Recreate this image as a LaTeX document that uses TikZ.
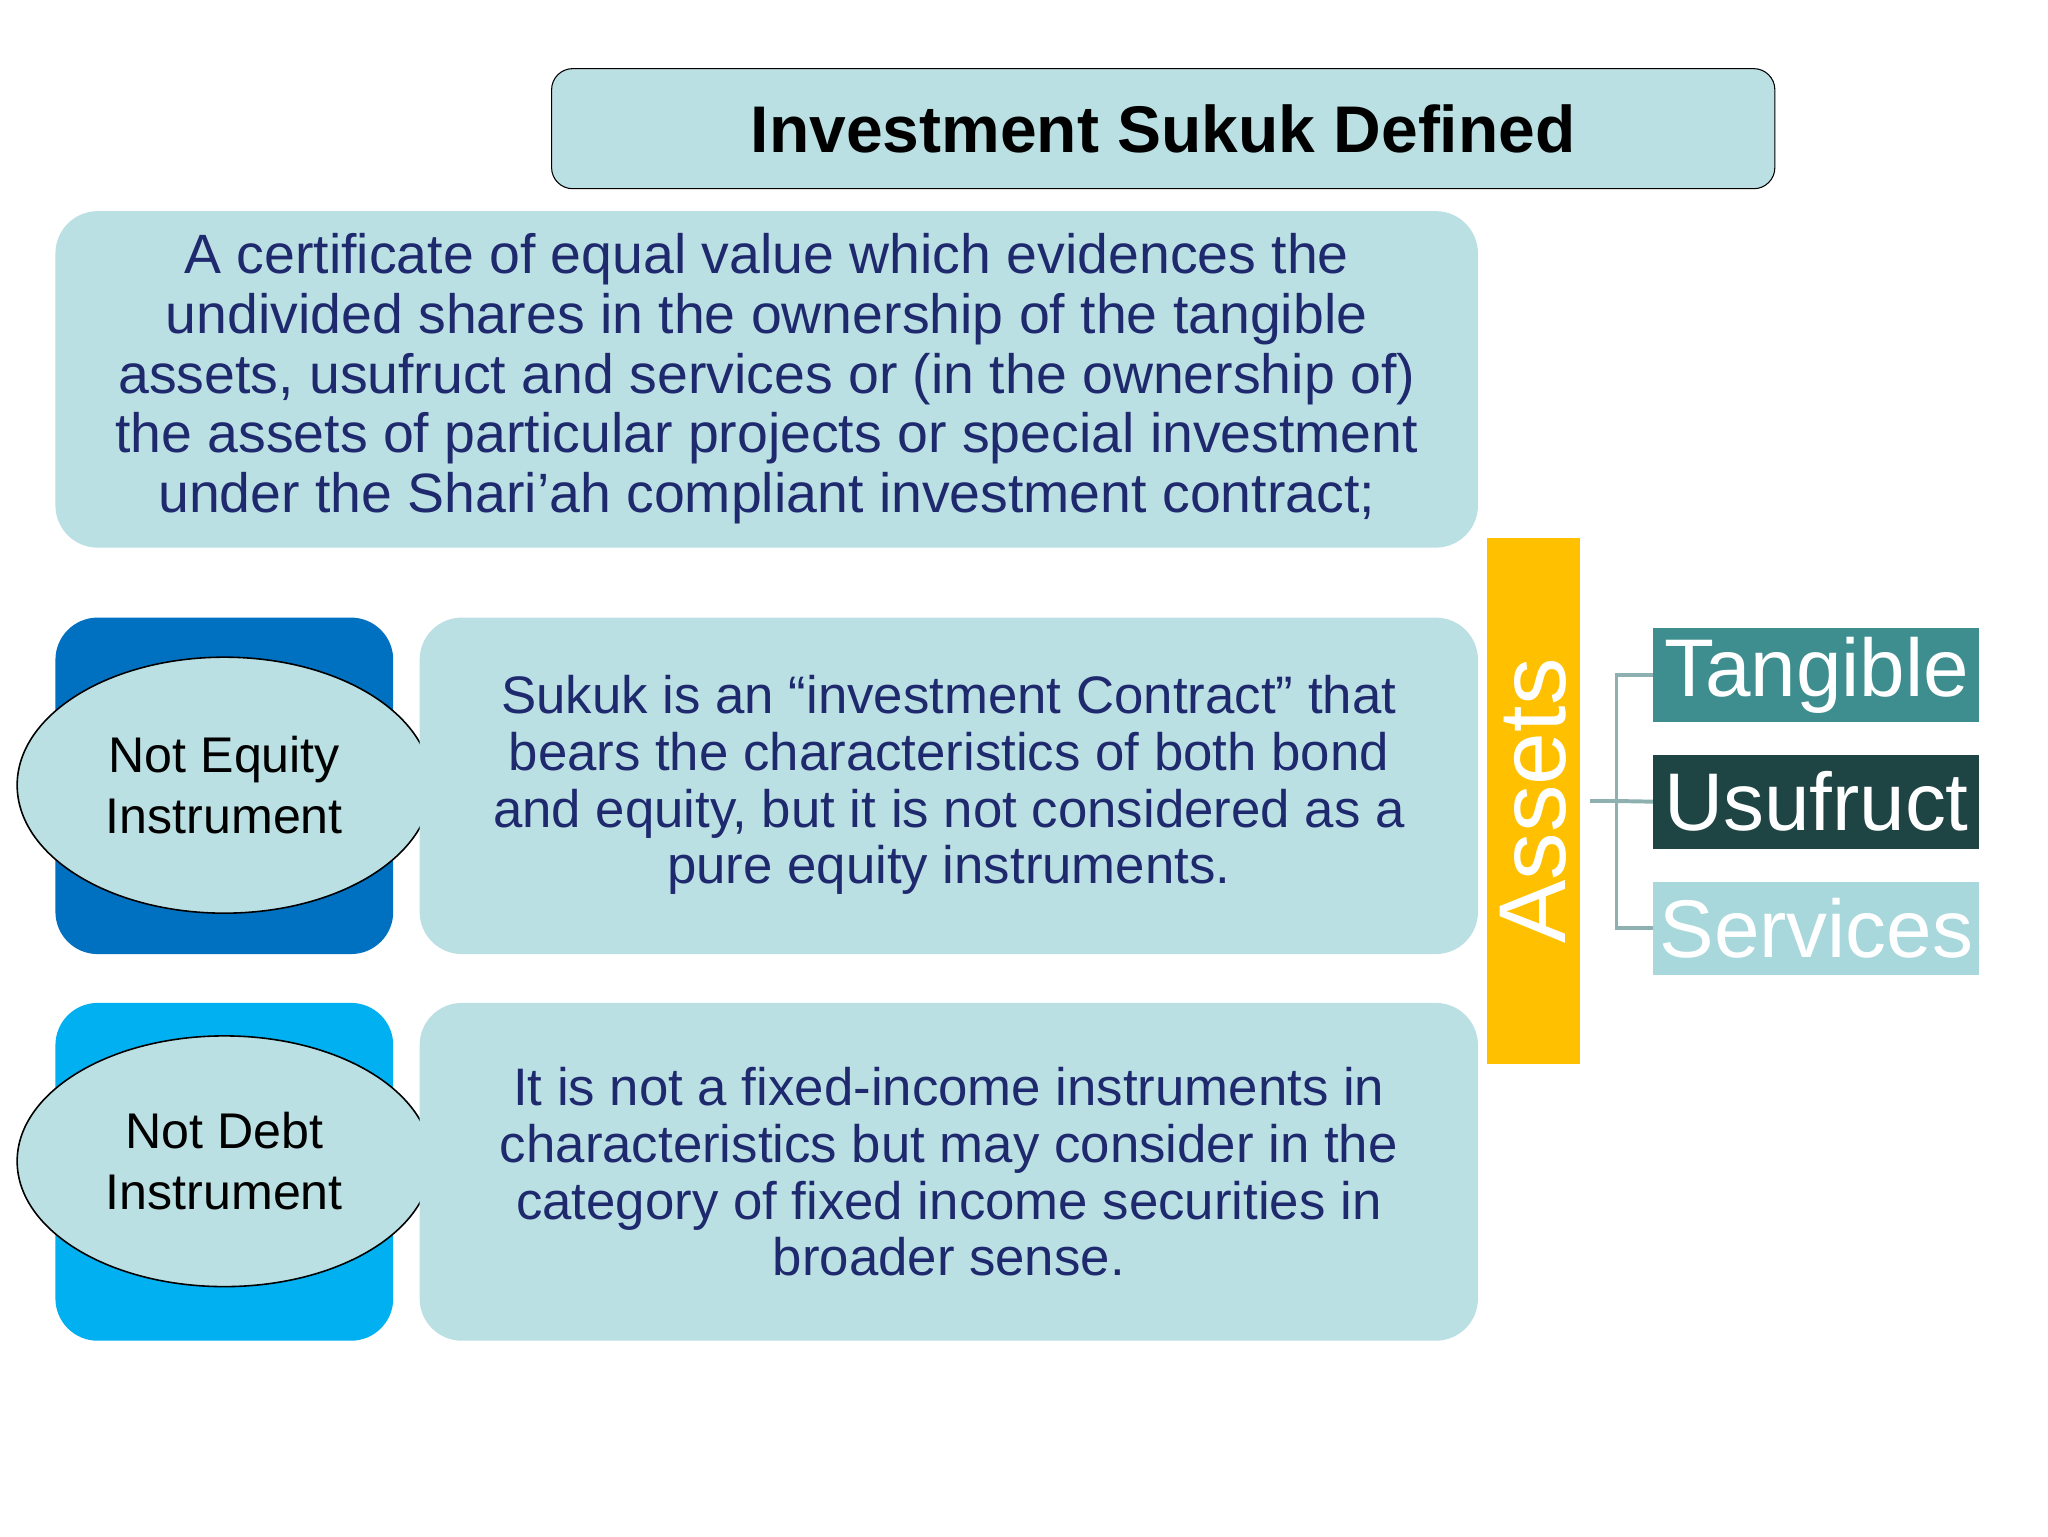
\documentclass[tikz,border=0pt]{standalone}
\usetikzlibrary{shapes.geometric}
\usepackage{fontspec}
\setmainfont{Liberation Sans}
\definecolor{lb}{HTML}{BBE0E3}
\definecolor{navy}{HTML}{1F2A6E}
\definecolor{dblue}{HTML}{0070C0}
\definecolor{cyanb}{HTML}{00B0F0}
\definecolor{gold}{HTML}{FFC000}
\definecolor{teal1}{HTML}{3E8E8F}
\definecolor{teal2}{HTML}{1E4444}
\definecolor{teal3}{HTML}{A8D8DC}
\definecolor{brk}{HTML}{8FB0B0}
\begin{document}
\begin{tikzpicture}[x=0.5pt,y=-0.5pt,
  panel/.style={fill=lb,rounded corners=16pt},
  body/.style={text=navy,align=center,font=\fontsize{20}{21.5}\selectfont},
  oval/.style={ellipse,draw=black,fill=lb,minimum width=157pt,minimum height=97pt,align=center,font=\fontsize{19}{23}\selectfont,line width=0.6pt},
  tag/.style={minimum width=123.5pt,minimum height=35.5pt,inner sep=0pt,text=white,font=\fontsize{31}{31}\selectfont},
  brline/.style={draw=brk,line width=1.5pt}]
\useasboundingbox[fill=white] (0,0) rectangle (1552,1164);
\node[draw=black,fill=lb,rounded corners=8pt,minimum width=463.5pt,minimum height=45.5pt,font=\bfseries\fontsize{25}{25}\selectfont] (title) at (881.5,97.5) {Investment Sukuk Defined};
\fill[panel] (42,160) rectangle (1120,415);
\node[body,font=\fontsize{21}{22.6}\selectfont] (def) at (581,287) {A certificate of equal value which evidences the\\undivided shares in the ownership of the tangible\\assets, usufruct and services or (in the ownership of)\\the assets of particular projects or special investment\\under the Shari’ah compliant investment contract;};
\fill[dblue,rounded corners=16pt] (42,468) rectangle (298,723);
\node[oval] (eq) at (170,595) {Not Equity\\Instrument};
\fill[panel] (318,468) rectangle (1120,723);
\node[body] (t1) at (719,595) {Sukuk is an “investment Contract” that\\bears the characteristics of both bond\\and equity, but it is not considered as a\\pure equity instruments.};
\fill[cyanb,rounded corners=16pt] (42,760) rectangle (298,1016);
\node[oval,minimum height=95pt] (debt) at (170,880) {Not Debt\\Instrument};
\fill[panel] (318,760) rectangle (1120,1016);
\node[body] (t2) at (719,888) {It is not a fixed-income instruments in\\characteristics but may consider in the\\category of fixed income securities in\\broader sense.};
\node[fill=gold,minimum width=35.5pt,minimum height=199pt,inner sep=0pt] (assets) at (1162,607) {};
\node[rotate=90,text=white,font=\fontsize{36}{36}\selectfont] (al) at (assets.center) {Assets};
\node[tag,fill=teal1] (tan) at (1376.5,511.5) {Tangible};
\node[tag,fill=teal2] (usu) at (1376.5,607.5) {Usufruct};
\node[tag,fill=teal3] (ser) at (1376.5,703.5) {Services};
\coordinate (j) at (1225,607);
\draw[brline] (1205,607) -- (j);
\draw[brline] (tan.west) -- (1225,511.5) -- (1225,703.5) -- (ser.west);
\draw[brline] (j) -- (usu.west);
\end{tikzpicture}
\end{document}
